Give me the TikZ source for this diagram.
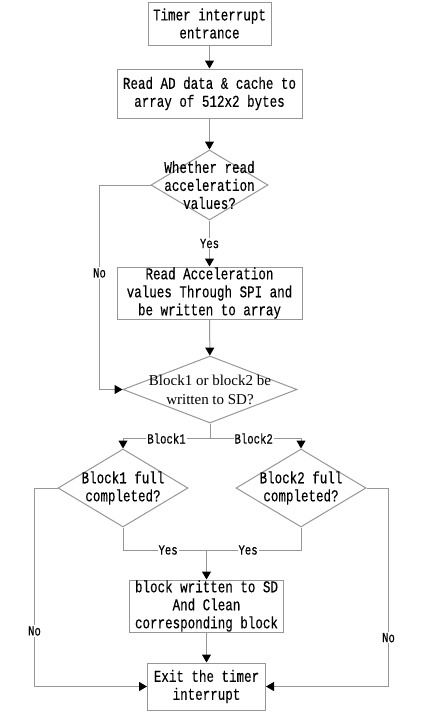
\documentclass[tikz,border=0pt]{standalone}
\usepackage{fontspec}
\setmainfont{Liberation Serif}
\newfontfamily\simfont[FakeStretch=0.76, FakeBold=0.3]{Liberation Mono}
\usepackage{xcolor}
\usepackage{tikz}
\usetikzlibrary{arrows.meta, shapes.geometric}
\definecolor{linegray}{RGB}{150,150,150}

\begin{document}
\begin{tikzpicture}[
  x=1pt, y=-1pt,
  box/.style={rectangle, draw=linegray, line width=1pt, inner sep=0pt, align=center, font={\fontsize{16.5}{18}\simfont}},
  decision/.style={diamond, draw=linegray, line width=1pt, inner sep=0pt},
  dtext/.style={align=center, font={\fontsize{16.5}{18}\simfont}},
  lbl/.style={fill=white, inner sep=1pt, font={\fontsize{14}{15}\simfont}},
  line/.style={draw=linegray, line width=1pt},
  arrow/.style={line, -{Triangle[length=8pt, width=9pt, black]}}
]
\useasboundingbox (0,0) rectangle (424,713);

\node[box, minimum width=123pt, minimum height=43pt] (entry) at (209.5,23.5) {Timer interrupt\\entrance};
\node[box, minimum width=185pt, minimum height=49pt] (readad) at (209.5,93.5) {Read AD data \& cache to\\array of 512x2 bytes};
\node[decision, minimum width=117pt, minimum height=70pt,
  label={[dtext]center:Whether read\\acceleration\\values?}] (ifacc) at (209.5,185) {};
\node[box, minimum width=185pt, minimum height=52pt] (readacc) at (209.5,293) {Read Acceleration\\values Through SPI and\\be written to array};
\node[decision, minimum width=174pt, minimum height=67pt,
  label={[align=center, font={\fontsize{15}{19}\selectfont}]center:Block1 or block2 be\\written to SD?}] (whichblk) at (210,389.5) {};
\node[decision, minimum width=130pt, minimum height=78pt,
  label={[dtext]center:Block1 full\\completed?}] (full1) at (123,488) {};
\node[decision, minimum width=130pt, minimum height=78pt,
  label={[dtext]center:Block2 full\\completed?}] (full2) at (301,488) {};
\node[box, minimum width=154pt, minimum height=52pt] (writesd) at (206.5,606) {block written to SD\\And Clean\\corresponding block};
\node[box, minimum width=118pt, minimum height=47pt] (exit) at (206.5,686.5) {Exit the timer\\interrupt};

% main column
\draw[arrow] (entry) -- (readad);
\draw[arrow] (readad) -- (ifacc);
\draw[arrow] (ifacc) -- node[lbl]{Yes} (readacc);
\draw[arrow] (readacc) -- (whichblk);
\draw[arrow] (ifacc.west) -- ++(-51,0) |- node[lbl, pos=0.215]{No} (whichblk.west);

% block split
\draw[line] (whichblk.south) -- ++(0,15) coordinate (split);
\draw[arrow] (split) -| node[lbl, pos=0.25]{Block1} (full1.north);
\draw[arrow] (split) -| node[lbl, pos=0.24]{Block2} (full2.north);

% merge
\coordinate (merge) at (206.5,550);
\draw[line] (full1.south) |- node[lbl, pos=0.77]{Yes} (merge);
\draw[line] (full2.south) |- node[lbl, pos=0.78]{Yes} (merge);
\draw[arrow] (merge) -- (writesd);
\draw[arrow] (writesd) -- (exit);

% exits
\draw[arrow] (full1.west) -- ++(-23,0) |- node[lbl, pos=0.36]{No} (exit.west);
\draw[arrow] (full2.east) -- ++(22,0) |- node[lbl, pos=0.377]{No} (exit.east);
\end{tikzpicture}
\end{document}
